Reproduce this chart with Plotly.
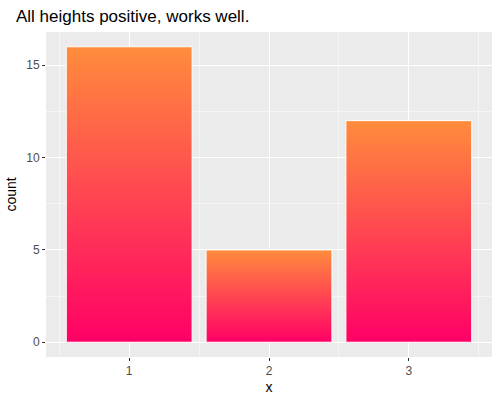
import plotly.graph_objects as go

x_vals = [1, 2, 3]
counts = [16, 5, 12]
bar_width = 0.9

fig = go.Figure()

# plotly bars can't take a gradient, so each bar is a filled polygon with fillgradient
for xv, c in zip(x_vals, counts):
    half = bar_width / 2
    fig.add_trace(go.Scatter(
        x=[xv - half, xv + half, xv + half, xv - half, xv - half],
        y=[0, 0, c, c, 0],
        mode='lines',
        fill='toself',
        fillgradient=dict(type='vertical',
                          colorscale=[[0, '#FF0066'], [1, '#FF8C3C']]),
        line=dict(color='white', width=1),
        hoverinfo='text',
        text=f'x: {xv}<br>count: {c}',
        showlegend=False))

fig.update_layout(
    width=500, height=402,
    margin=dict(l=46, r=8, t=32, b=45, autoexpand=False),
    paper_bgcolor='white',
    plot_bgcolor='#EBEBEB',
    font=dict(family='Liberation Sans, Arial, sans-serif', color='black'),
    title=dict(text='All heights positive, works well.', automargin=False,
               x=16 / 500, xanchor='left', y=1 - 16 / 402, yanchor='middle',
               font=dict(size=17, color='black')),
)

fig.update_xaxes(
    range=[0.405, 3.595], automargin=False,
    tickvals=x_vals, ticktext=[str(v) for v in x_vals],
    showgrid=True, gridcolor='white', gridwidth=1.1,
    minor=dict(tickvals=[0.5, 1.5, 2.5, 3.5], showgrid=True,
               gridcolor='#F5F5F5', gridwidth=0.6),
    zeroline=False, showline=False,
    ticks='outside', ticklen=3, tickcolor='#333333', tickwidth=1,
    tickfont=dict(size=12, color='#4D4D4D'),
    title=dict(text='x', font=dict(size=14, color='black'), standoff=4),
)

fig.update_yaxes(
    range=[-0.8, 16.8], automargin=False,
    tickvals=[0, 5, 10, 15],
    showgrid=True, gridcolor='white', gridwidth=1.1,
    minor=dict(tickvals=[2.5, 7.5, 12.5], showgrid=True,
               gridcolor='#F5F5F5', gridwidth=0.6),
    zeroline=False, showline=False,
    ticks='outside', ticklen=3, tickcolor='#333333', tickwidth=1,
    tickfont=dict(size=12, color='#4D4D4D'),
    title=dict(text='count', font=dict(size=14, color='black'), standoff=6),
)

# page body has a default 8px margin; drop it so the figure sits at the window corner
fig.write_html("out.html", config={'displayModeBar': False},
               post_script="document.body.style.margin='0';")
